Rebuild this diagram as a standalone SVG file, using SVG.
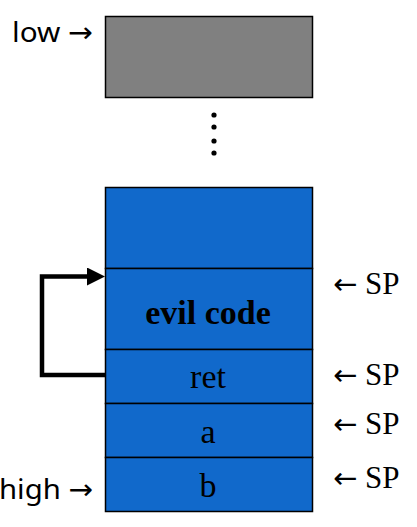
<svg xmlns="http://www.w3.org/2000/svg" width="417" height="527" viewBox="0 0 417 527">
<style>
.cell{fill:#1169cb;stroke:#000;stroke-width:1.5}
.lbl{font-family:"Liberation Serif",serif;font-size:34px;fill:#000;text-anchor:middle}
.sp{font-family:"Liberation Serif",serif;font-size:31px;fill:#000}
.arr{font-family:"DejaVu Sans",sans-serif;font-size:29px}
.side{font-family:"Noto Sans","DejaVu Sans",sans-serif;font-size:28px;fill:#000}
</style>
<defs>
<marker id="ah" markerWidth="4" markerHeight="4" refX="0" refY="2" orient="auto" markerUnits="strokeWidth">
<path d="M0,0 L4,2 L0,4 Z" fill="#000"/>
</marker>
</defs>
<g id="low-block">
<rect x="105.5" y="16.5" width="207" height="81" fill="#808080" stroke="#000" stroke-width="1.5"/>
</g>
<g id="dots">
<circle cx="214" cy="115" r="2.6"/>
<circle cx="214" cy="127" r="2.6"/>
<circle cx="214" cy="141" r="2.6"/>
<circle cx="214" cy="153" r="2.6"/>
</g>
<g id="cell-top"><rect class="cell" x="105.5" y="187.5" width="207" height="81"/></g>
<g id="cell-evil"><rect class="cell" x="105.5" y="268.5" width="207" height="81"/>
<text class="lbl" x="208" y="324" font-weight="bold">evil code</text></g>
<g id="cell-ret"><rect class="cell" x="105.5" y="349.5" width="207" height="54"/>
<text class="lbl" x="208" y="388">ret</text></g>
<g id="cell-a"><rect class="cell" x="105.5" y="403.5" width="207" height="54"/>
<text class="lbl" x="208" y="443">a</text></g>
<g id="cell-b"><rect class="cell" x="105.5" y="457.5" width="207" height="54"/>
<text class="lbl" x="208" y="497">b</text></g>
<g id="labels">
<text class="side" x="12" y="42" textLength="81" lengthAdjust="spacingAndGlyphs">low →</text>
<text class="side" x="-1" y="499" textLength="94" lengthAdjust="spacingAndGlyphs">high →</text>
<text class="sp" x="333" y="294"><tspan class="arr">←</tspan> SP</text>
<text class="sp" x="333" y="385"><tspan class="arr">←</tspan> SP</text>
<text class="sp" x="333" y="434"><tspan class="arr">←</tspan> SP</text>
<text class="sp" x="333" y="488"><tspan class="arr">←</tspan> SP</text>
</g>
<g id="connectors">
<path d="M105,375 H42 V276.5 H87" fill="none" stroke="#000" stroke-width="4.5" marker-end="url(#ah)"/>
</g>
</svg>
